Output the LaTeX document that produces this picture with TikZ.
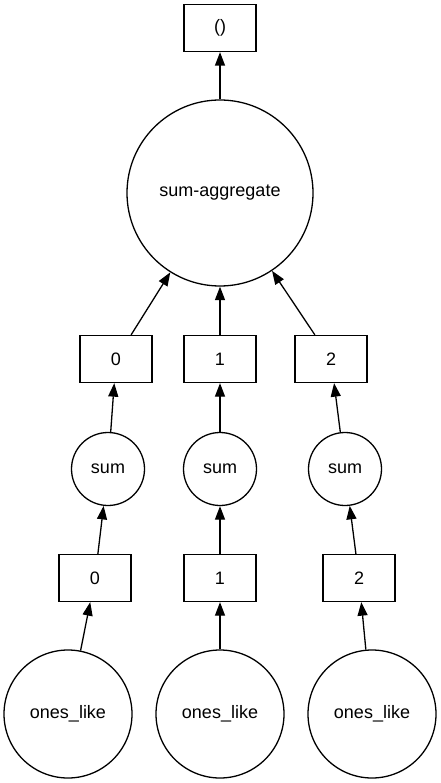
\documentclass[tikz,border=0pt]{standalone}
\usepackage{fontspec}
\setmainfont{Liberation Sans}
\usetikzlibrary{arrows.meta,positioning}

\begin{document}
\begin{tikzpicture}[x=1pt, y=-1pt,
    chunk/.style={draw, rectangle, font=\fontsize{18}{22}\selectfont, minimum width=72pt, minimum height=47pt, inner sep=0pt, line width=1.3pt},
    op/.style={draw, circle, font=\fontsize{18}{22}\selectfont, inner sep=0pt, line width=1.3pt},
    arr/.style={-{Triangle[length=13.5pt, width=10pt]}, line width=1.3pt}]

    \useasboundingbox (0,0) rectangle (440,783);

    \node[chunk] (result) at (220,28) {()};
    \node[op, minimum size=186pt] (agg) at (220,193) {sum-aggregate};

    \node[chunk] (k0) at (116,359) {0};
    \node[chunk] (k1) at (220,359) {1};
    \node[chunk] (k2) at (331,359) {2};

    \node[op, minimum size=73pt] (s0) at (108,469) {sum};
    \node[op, minimum size=73pt] (s1) at (220,469) {sum};
    \node[op, minimum size=73pt] (s2) at (345,469) {sum};

    \node[chunk] (c0) at (95,578) {0};
    \node[chunk] (c1) at (220,578) {1};
    \node[chunk] (c2) at (359,578) {2};

    \node[op, minimum size=128pt] (o0) at (68,714) {ones\_like};
    \node[op, minimum size=128pt] (o1) at (220,714) {ones\_like};
    \node[op, minimum size=128pt] (o2) at (372,714) {ones\_like};

    \draw[arr] (agg) -- (result);
    \draw[arr] (k0) -- (agg);
    \draw[arr] (k1) -- (agg);
    \draw[arr] (k2) -- (agg);
    \draw[arr] (s0) -- (k0);
    \draw[arr] (s1) -- (k1);
    \draw[arr] (s2) -- (k2);
    \draw[arr] (c0) -- (s0);
    \draw[arr] (c1) -- (s1);
    \draw[arr] (c2) -- (s2);
    \draw[arr] (o0) -- (c0);
    \draw[arr] (o1) -- (c1);
    \draw[arr] (o2) -- (c2);
\end{tikzpicture}
\end{document}
